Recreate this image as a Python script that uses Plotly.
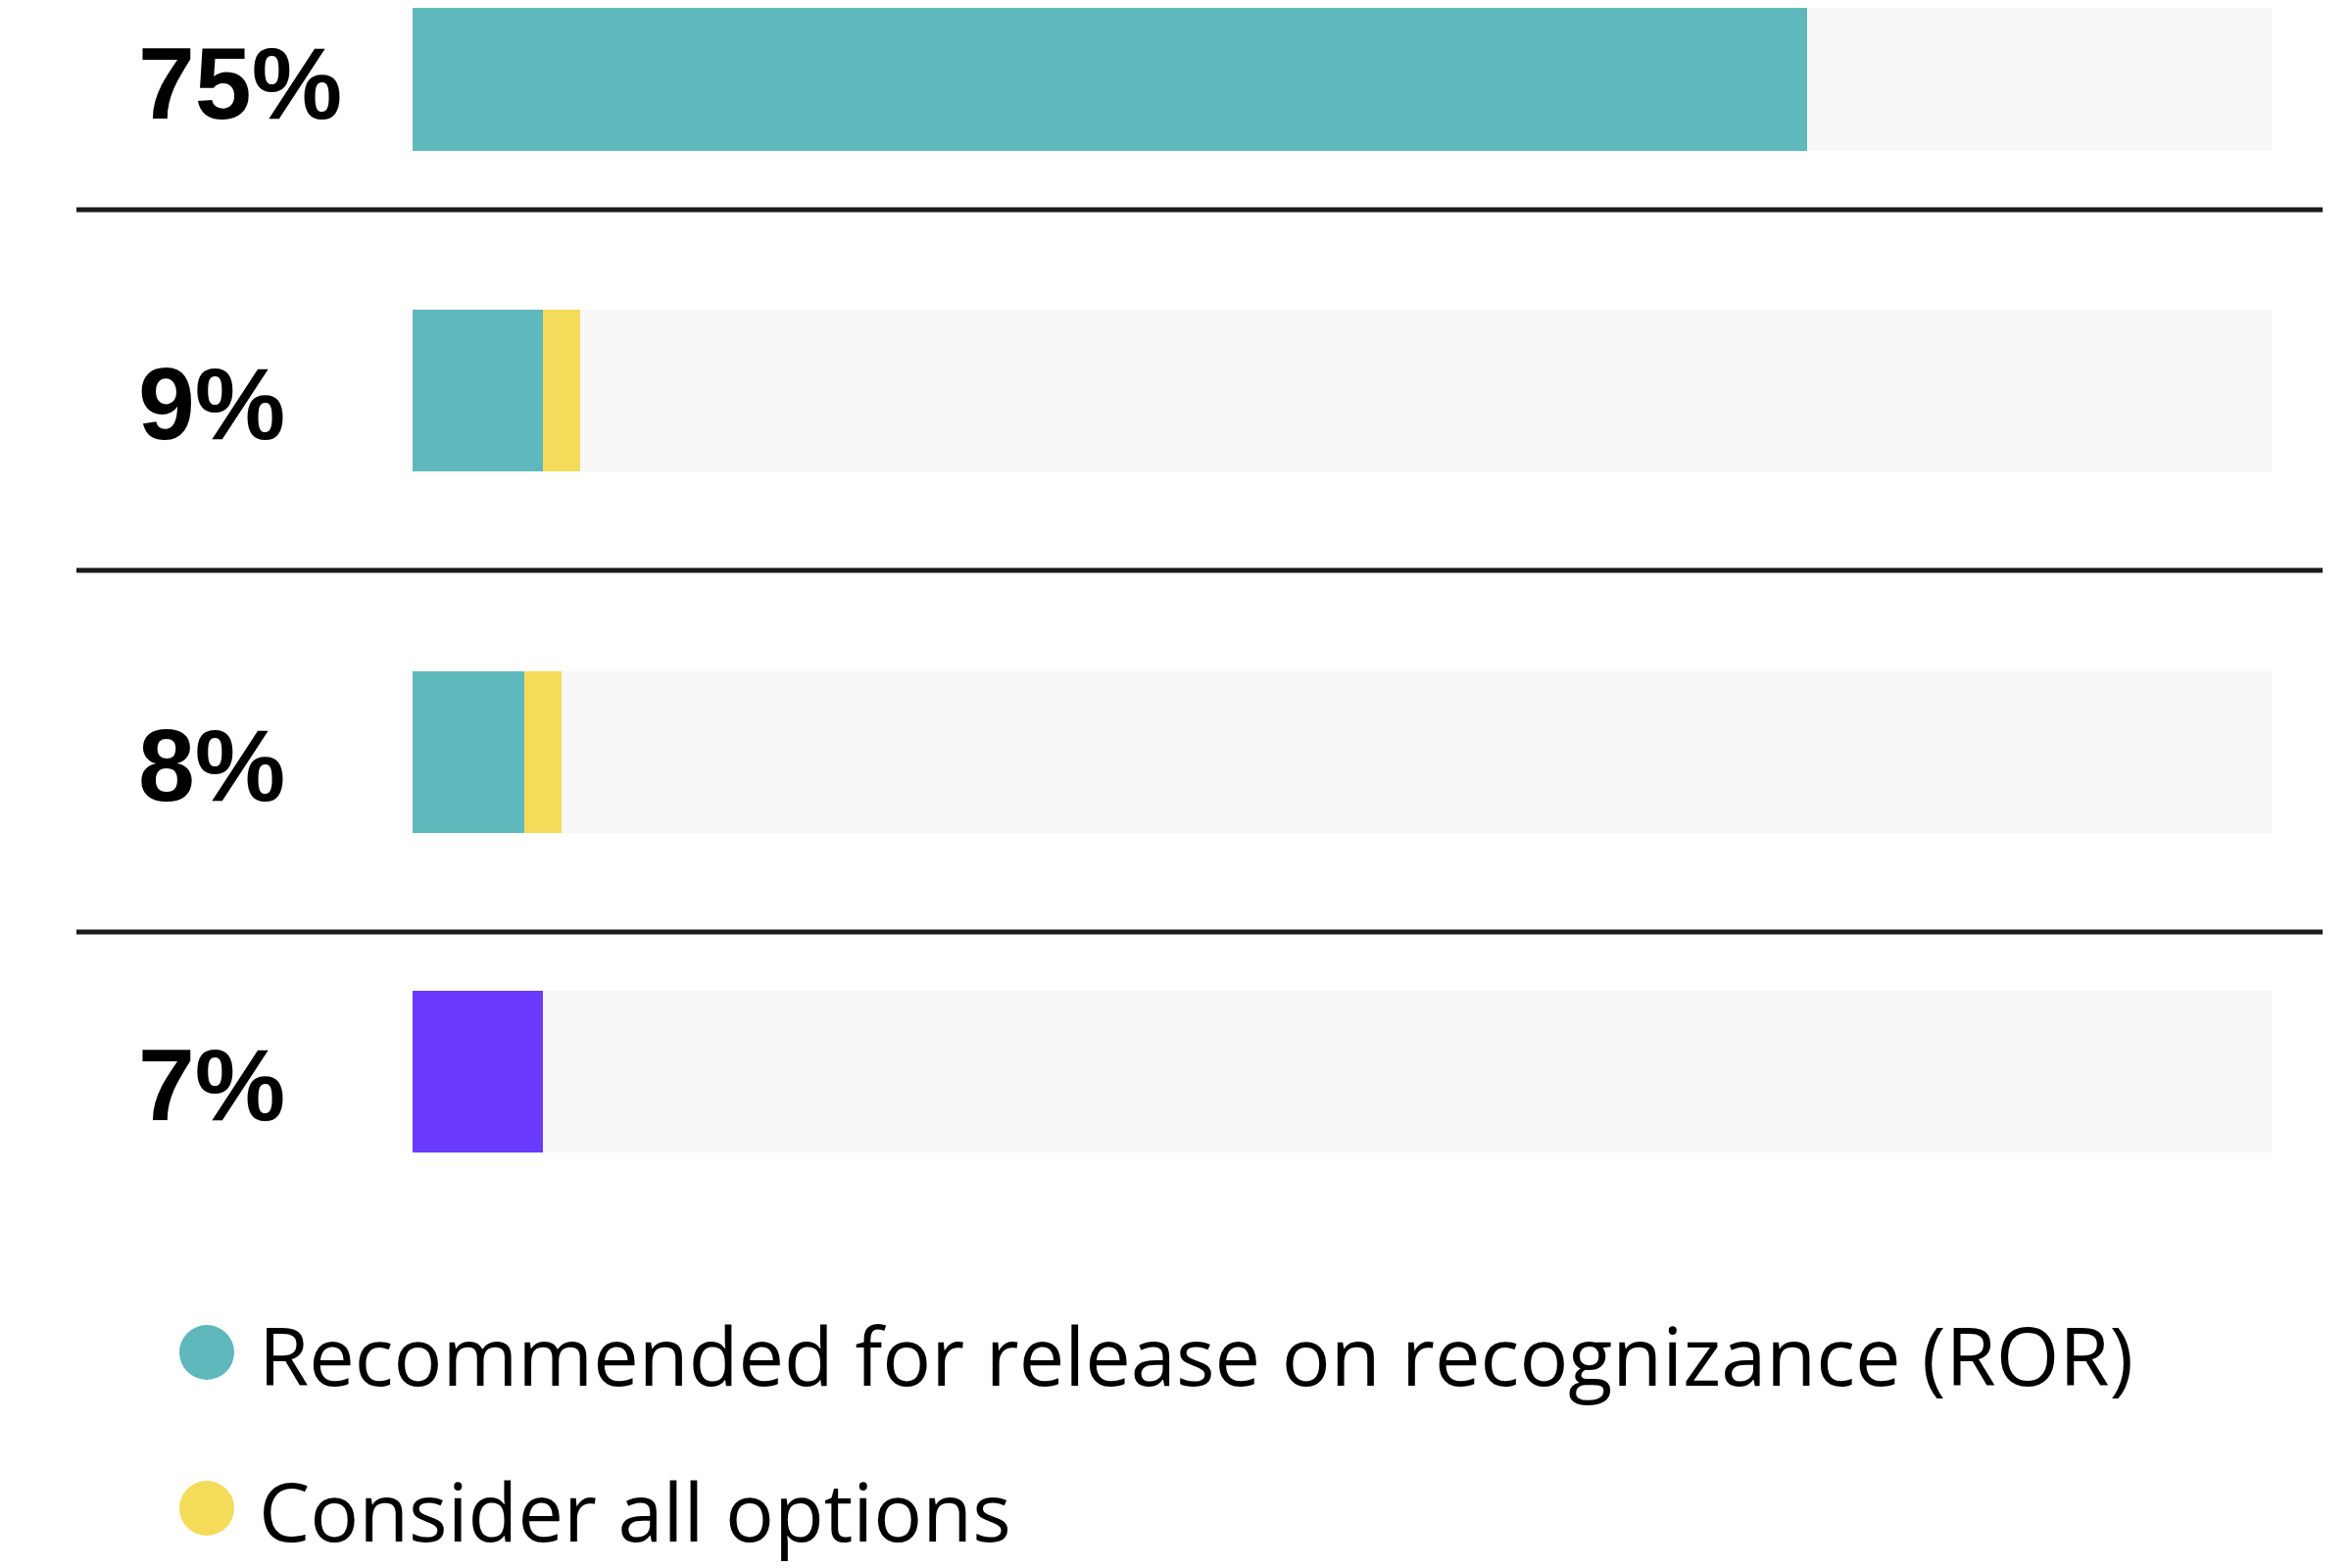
import plotly.graph_objects as go

# ---------------------------------------------------------------------------
# Data
# ---------------------------------------------------------------------------
row_labels = ["75%", "9%", "8%", "7%"]
ror_values = [75, 7, 6, 0]
consider_values = [0, 2, 2, 0]
other_values = [0, 0, 0, 7]
track_values = [100, 100, 100, 100]
legend_labels = ["Recommended for release on recognizance (ROR)", "Consider all options"]

# ---------------------------------------------------------------------------
# Layout constants, in screen pixels (page body adds an 8px margin)
# ---------------------------------------------------------------------------
OFF = 8
W, H = 2400 - OFF, 1600 - OFF
BAR_X0, BAR_X1 = 421, 2318
ROW_Y = [71, 398, 767, 1093]
BAR_H = 165
DIVIDERS = [214, 582, 951]

TEAL = "#5fb8bb"
YELLOW = "#f4db5a"
PURPLE = "#6a3aff"
TRACK = "#f7f7f7"


def px(x):
    return (x - OFF) / W


def py(y):
    return 1 - (y - OFF) / H


px_per_pct = (BAR_X1 - BAR_X0) / 100.0
x_range = [-(BAR_X0 - OFF) / px_per_pct, (W - (BAR_X0 - OFF)) / px_per_pct]
bar_y = [y - OFF for y in ROW_Y]

fig = go.Figure()

fig.add_trace(go.Bar(
    y=bar_y, x=track_values, orientation="h", width=BAR_H,
    marker=dict(color=TRACK, line=dict(width=0)), showlegend=False,
    hoverinfo="skip"
))

# stacked segments, drawn on top of the grey track
fig.add_trace(go.Bar(
    y=bar_y, x=ror_values, base=[0] * 4, orientation="h", width=BAR_H,
    marker=dict(color=TEAL, line=dict(width=0)), name=legend_labels[0],
    showlegend=False
))
fig.add_trace(go.Bar(
    y=bar_y, x=consider_values, base=ror_values, orientation="h", width=BAR_H,
    marker=dict(color=YELLOW, line=dict(width=0)), name=legend_labels[1],
    showlegend=False
))
fig.add_trace(go.Bar(
    y=bar_y, x=other_values, base=[0] * 4, orientation="h", width=BAR_H,
    marker=dict(color=PURPLE, line=dict(width=0)), showlegend=False
))

# big percentage labels on the left
for lab, yc in zip(row_labels, ROW_Y):
    fig.add_annotation(
        x=px(139), y=py(yc + 14), xref="paper", yref="paper",
        text="<b>" + lab + "</b>", showarrow=False, xanchor="left", yanchor="middle",
        font=dict(family="Liberation Sans", size=104, color="#000000"),
    )

# divider rules between rows
for yl in DIVIDERS:
    fig.add_shape(
        type="line", xref="paper", yref="paper",
        x0=px(78), x1=px(2370), y0=py(yl), y1=py(yl),
        line=dict(color="#1a1a1a", width=5),
    )

# hand-made legend (dot + label)
legend_y = [1381, 1540]
for lab, col, ly in zip(legend_labels, [TEAL, YELLOW], legend_y):
    r = 28
    fig.add_shape(
        type="circle", xref="paper", yref="paper",
        x0=px(211 - r), x1=px(211 + r),
        y0=py(ly - 1 + r), y1=py(ly - 1 - r),
        fillcolor=col, line=dict(width=0),
    )
    fig.add_annotation(
        x=px(262), y=py(ly), xref="paper", yref="paper",
        text=lab, showarrow=False, xanchor="left", yanchor="middle",
        font=dict(family="Open Sans", size=83, color="#000000"),
    )

fig.update_layout(
    width=W, height=H,
    barmode="overlay",
    bargap=0,
    plot_bgcolor="white",
    paper_bgcolor="white",
    margin=dict(l=0, r=0, t=0, b=0),
    showlegend=False,
    xaxis=dict(range=x_range, visible=False, fixedrange=True),
    yaxis=dict(range=[H, 0], visible=False, fixedrange=True),
)

fig.write_html("out.html")
